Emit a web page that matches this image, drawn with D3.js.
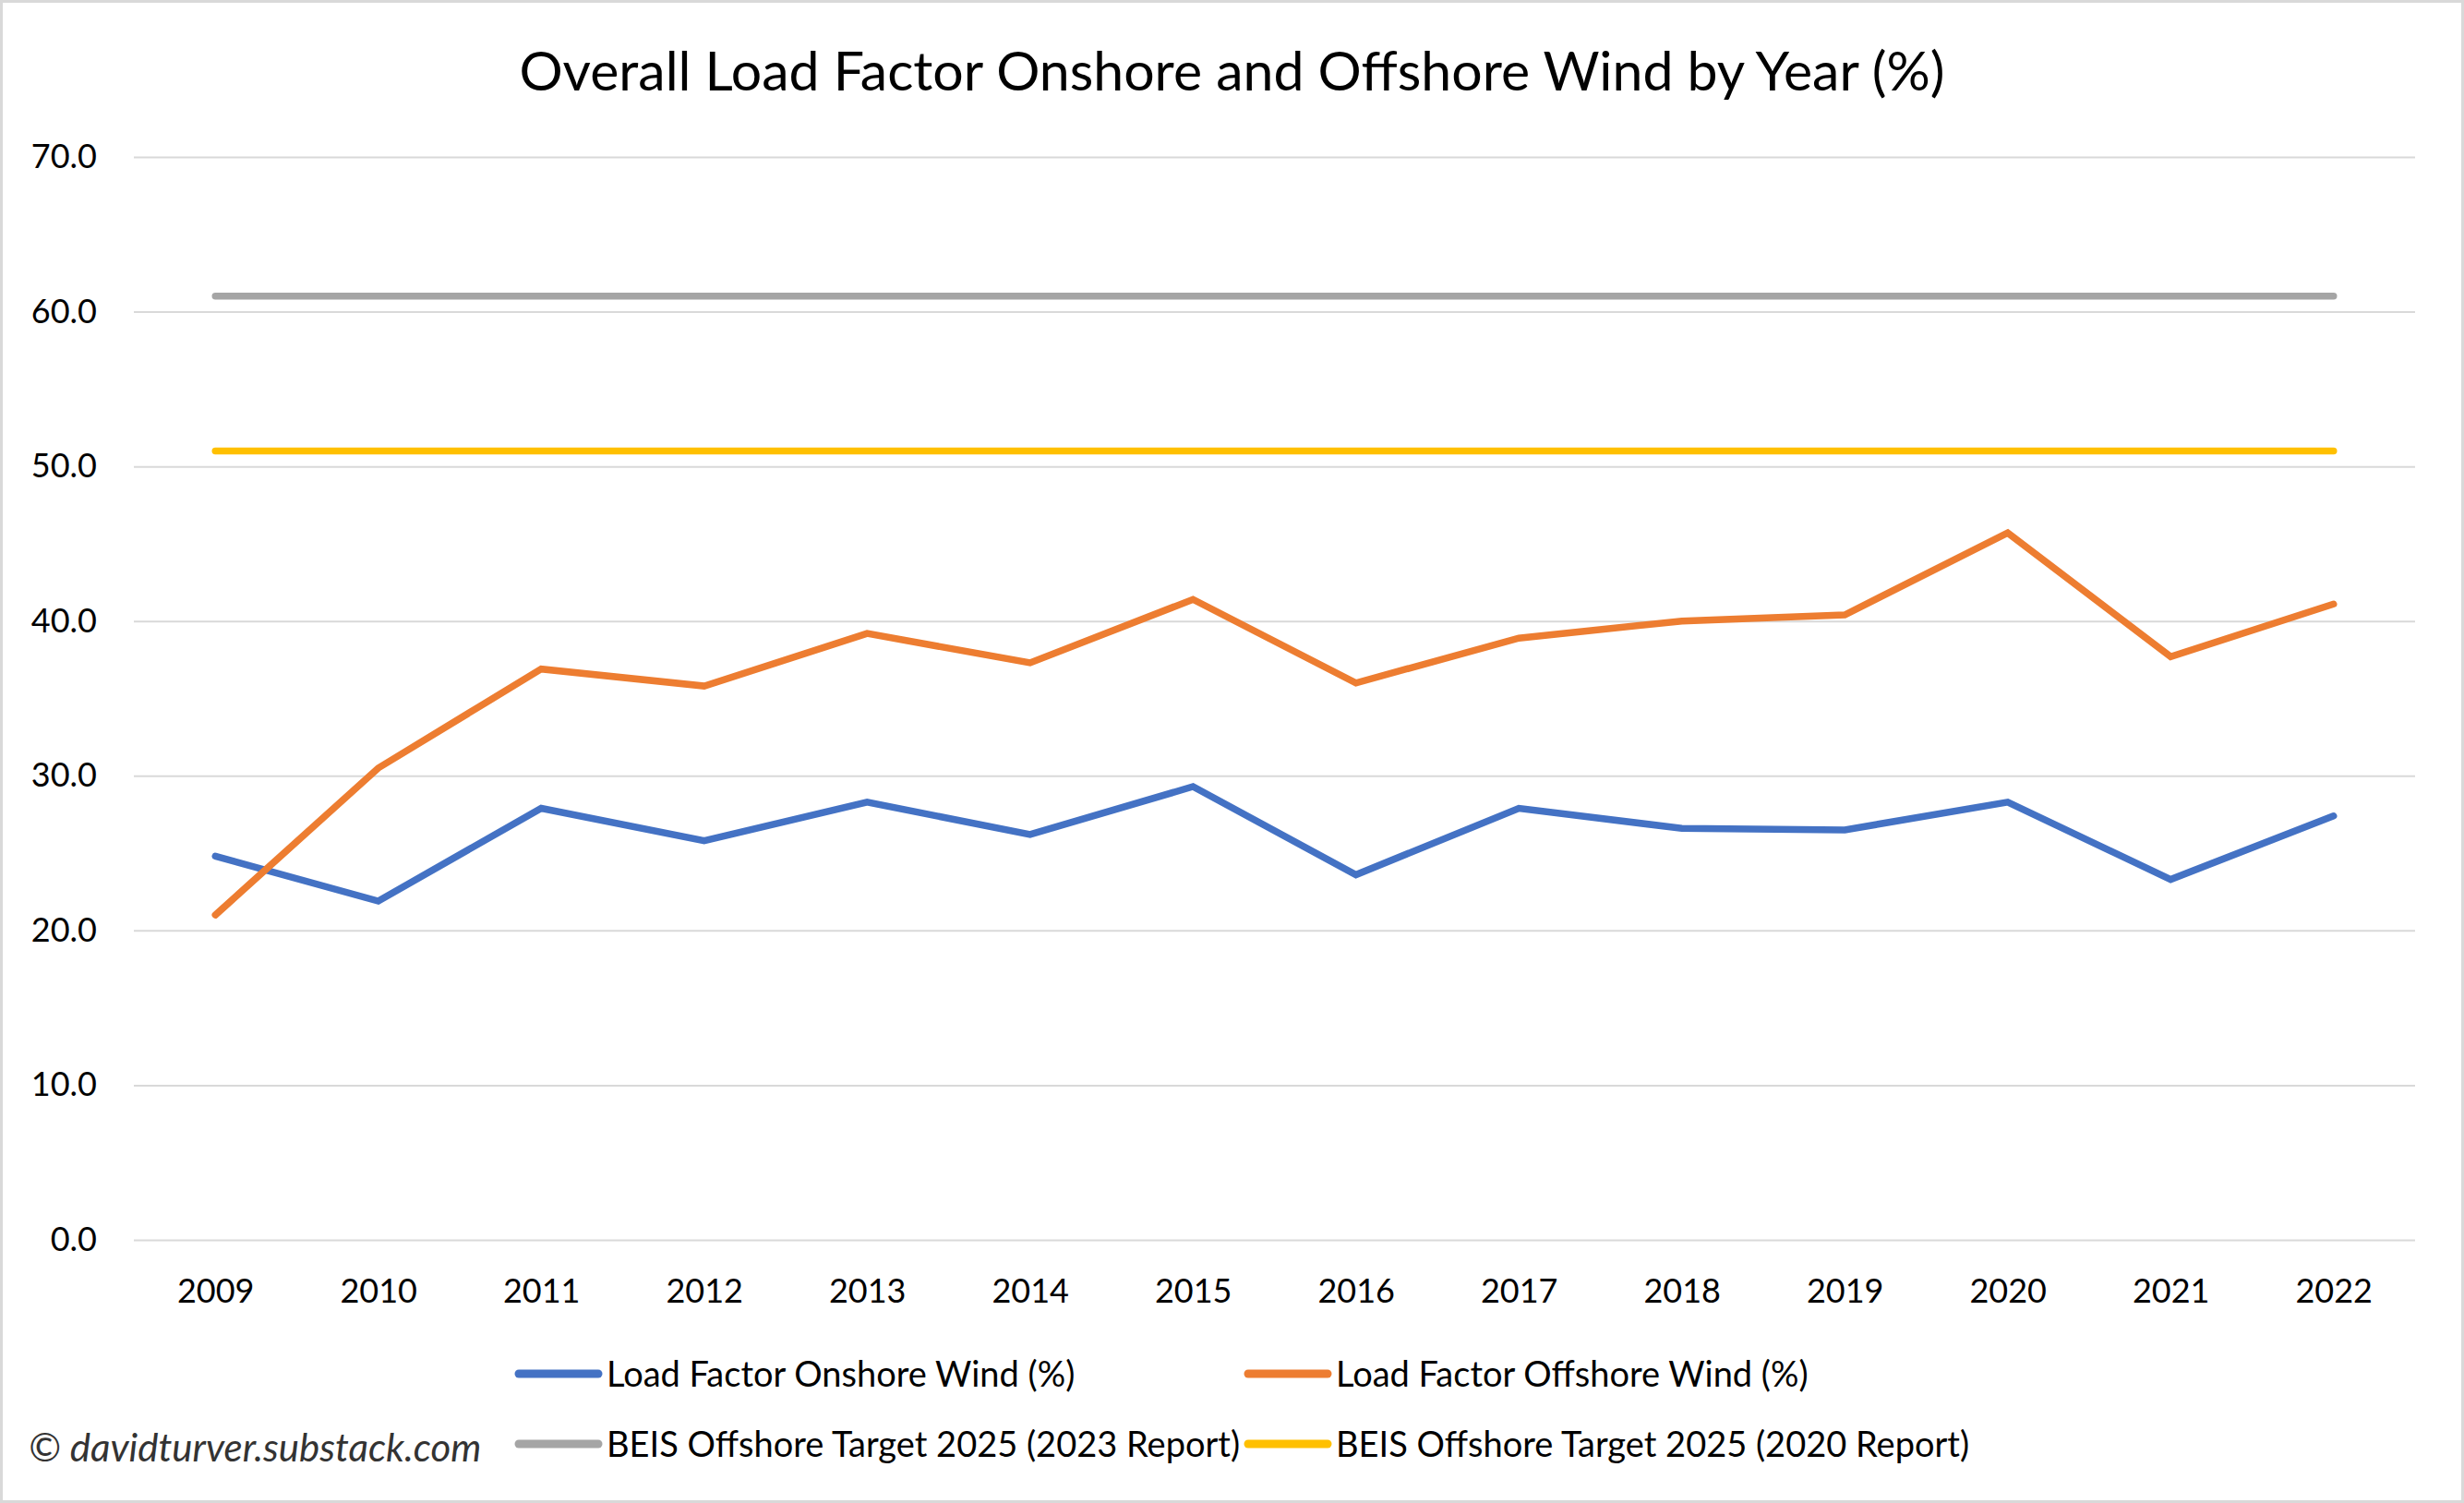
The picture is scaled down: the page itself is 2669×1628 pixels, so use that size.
<!DOCTYPE html>
<html>
<head>
<meta charset="utf-8">
<script src="https://cdn.jsdelivr.net/npm/d3@7"></script>
<style>
  body { margin: 0; background: #fff; }
  svg { display: block; }
  text { font-family: Lato, "Open Sans", sans-serif; fill: #000; }
</style>
</head>
<body>
<svg width="2669" height="1628"></svg>
<script>
const years = [2009, 2010, 2011, 2012, 2013, 2014, 2015, 2016, 2017, 2018, 2019, 2020, 2021, 2022];
const onshore = [24.8, 21.9, 27.9, 25.8, 28.3, 26.2, 29.3, 23.6, 27.9, 26.6, 26.5, 28.3, 23.3, 27.4];
const offshore = [21.0, 30.5, 36.9, 35.8, 39.2, 37.3, 41.4, 36.0, 38.9, 40.0, 40.4, 45.7, 37.7, 41.1];
const target2023 = [61, 61, 61, 61, 61, 61, 61, 61, 61, 61, 61, 61, 61, 61];
const target2020 = [51, 51, 51, 51, 51, 51, 51, 51, 51, 51, 51, 51, 51, 51];
const yTicks = [0, 10, 20, 30, 40, 50, 60, 70];

const seriesNames = [
  "Load Factor Onshore Wind (%)",
  "Load Factor Offshore Wind (%)",
  "BEIS Offshore Target 2025 (2023 Report)",
  "BEIS Offshore Target 2025 (2020 Report)"
];
const seriesColors = ["#4472C4", "#ED7D31", "#A5A5A5", "#FFC000"];

document.addEventListener("DOMContentLoaded", function () {
  let svg = d3.select("svg");

  // outer frame
  svg.append("rect")
    .attr("x", 1.5).attr("y", 1.5)
    .attr("width", 2666).attr("height", 1625)
    .attr("fill", "#fff")
    .attr("stroke", "#d9d9d9")
    .attr("stroke-width", 3);

  let x = d3.scalePoint().domain(years).range([145, 2616]).padding(0.5);
  let y = d3.scaleLinear().domain([0, 70]).range([1343, 170]);

  // title
  svg.append("text")
    .attr("x", 1334.5).attr("y", 98)
    .attr("text-anchor", "middle")
    .style("font-size", "59px")
    .text("Overall Load Factor Onshore and Offshore Wind by Year (%)");

  // gridlines + y labels
  let yAxis = d3.axisLeft(y)
    .tickValues(yTicks)
    .tickSize(-(2616 - 145))
    .tickPadding(40)
    .tickFormat(d3.format(".1f"));

  let gy = svg.append("g")
    .attr("transform", "translate(145,0)")
    .call(yAxis);
  gy.select(".domain").remove();
  gy.selectAll(".tick line").attr("stroke", "#d9d9d9").attr("stroke-width", 2);
  gy.selectAll(".tick text")
    .attr("fill", "#000")
    .style("font-size", "36px")
    .style("font-family", "Lato, 'Open Sans', sans-serif");

  // x labels
  let xAxis = d3.axisBottom(x).tickSize(0).tickPadding(0);
  let gx = svg.append("g")
    .attr("transform", "translate(0,1343)")
    .call(xAxis);
  gx.select(".domain").remove();
  gx.selectAll(".tick text")
    .attr("y", 68)
    .attr("dy", null)
    .attr("fill", "#000")
    .style("font-size", "36px")
    .style("font-family", "Lato, 'Open Sans', sans-serif");

  // series lines
  let line = d3.line()
    .x((d, i) => x(years[i]))
    .y(d => y(d));

  let allSeries = [onshore, offshore, target2023, target2020];
  allSeries.forEach(function (s, k) {
    svg.append("path")
      .datum(s)
      .attr("d", line)
      .attr("fill", "none")
      .attr("stroke", seriesColors[k])
      .attr("stroke-width", 7.5)
      .attr("stroke-linecap", "round")
      .attr("stroke-linejoin", "miter");
  });

  // legend
  let legendPos = [
    { lx: 558, ty: 1488 },
    { lx: 1348, ty: 1488 },
    { lx: 558, ty: 1564 },
    { lx: 1348, ty: 1564 }
  ];
  let legend = svg.append("g").selectAll("g")
    .data(seriesNames)
    .enter()
    .append("g")
    .attr("transform", (d, i) => "translate(" + legendPos[i].lx + "," + legendPos[i].ty + ")");

  legend.append("line")
    .attr("x1", 4).attr("x2", 90)
    .attr("y1", 0).attr("y2", 0)
    .attr("stroke", (d, i) => seriesColors[i])
    .attr("stroke-width", 9)
    .attr("stroke-linecap", "round");

  legend.append("text")
    .attr("x", 99).attr("y", 14)
    .style("font-size", "38px")
    .text(d => d);

  // copyright
  svg.append("text")
    .attr("x", 31).attr("y", 1583)
    .style("font-size", "42px")
    .style("font-style", "italic")
    .style("fill", "#333")
    .text("\u00A9 davidturver.substack.com");
});
</script>
</body>
</html>
